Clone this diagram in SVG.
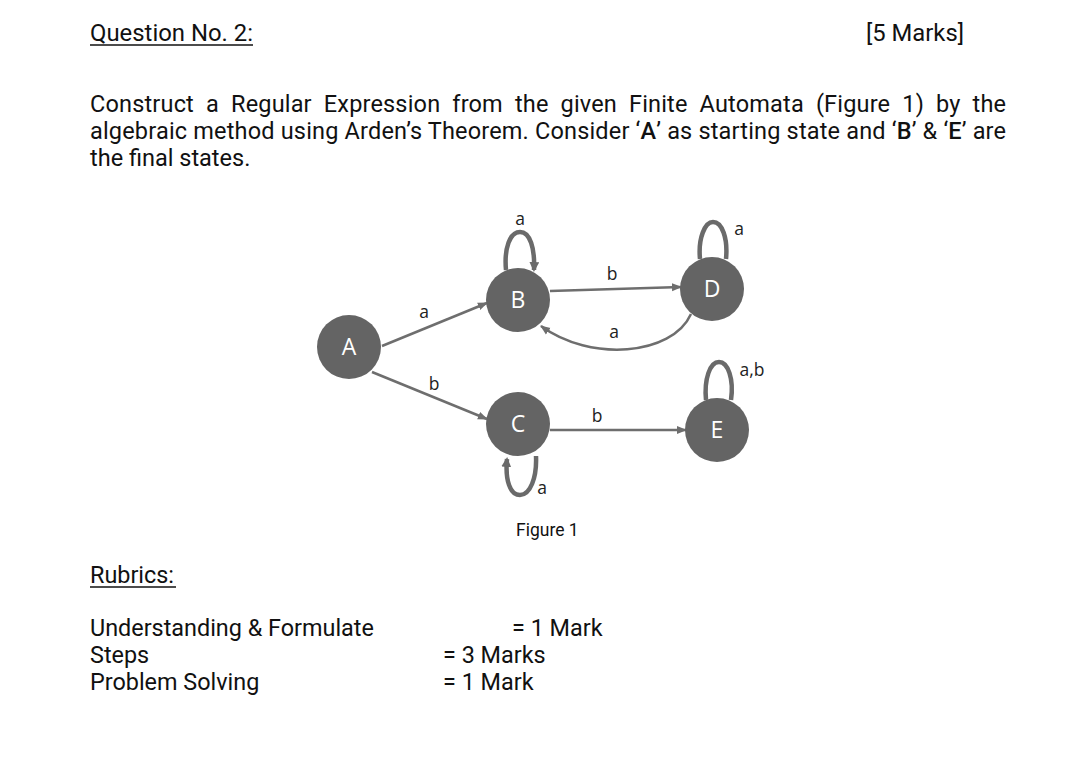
<svg xmlns="http://www.w3.org/2000/svg" width="1080" height="769" viewBox="0 0 1080 769">
<defs>
<style>
.hd{font-family:Roboto,"Liberation Sans",sans-serif;font-size:23.5px;fill:#111}
.rb{font-family:Roboto,"Liberation Sans",sans-serif;font-size:23.4px;fill:#111}
.cap{font-family:Roboto,"Liberation Sans",sans-serif;font-size:17.5px;fill:#111}
.b{font-weight:500}
.node{fill:#646464}
.nl{font-family:"Open Sans","DejaVu Sans",sans-serif;font-size:23px;fill:#fff;text-anchor:middle}
.el{font-family:"Open Sans","DejaVu Sans",sans-serif;font-size:17.5px;fill:#222;text-anchor:middle}
.edge{fill:none;stroke:#6e6e6e;stroke-width:2.5}
.loop{fill:none;stroke:#6a6a6a;stroke-width:4.5}
</style>
<marker id="arr" viewBox="0 0 10 10" refX="9" refY="5" markerWidth="4" markerHeight="4" orient="auto" markerUnits="strokeWidth">
<path d="M0,1 L10,5 L0,9 z" fill="#6e6e6e"/>
</marker>
<marker id="arrL" viewBox="0 0 10 10" refX="8" refY="5" markerWidth="2.2" markerHeight="2.2" orient="auto" markerUnits="strokeWidth">
<path d="M0,0 L10,5 L0,10 z" fill="#6a6a6a"/>
</marker>
</defs>
<rect width="1080" height="769" fill="#fff"/>

<g id="header">
<text class="hd" x="90" y="41" textLength="163" lengthAdjust="spacingAndGlyphs">Question No. 2:</text>
<line x1="90" y1="45" x2="253" y2="45" stroke="#111" stroke-width="1.5"/>
<text class="hd" x="866" y="41" textLength="98" lengthAdjust="spacingAndGlyphs">[5 Marks]</text>
</g>

<g id="question">
<text class="hd" x="90" y="112" word-spacing="6" textLength="916" lengthAdjust="spacing">Construct a Regular Expression from the given Finite Automata (Figure 1) by the</text>
<text class="hd" x="90" y="139" textLength="916" lengthAdjust="spacing">algebraic method using Arden’s Theorem. Consider ‘<tspan class="b">A</tspan>’ as starting state and ‘<tspan class="b">B</tspan>’ &amp; ‘<tspan class="b">E</tspan>’ are</text>
<text class="hd" x="90" y="166">the final states.</text>
</g>

<g id="connectors">
<line class="edge" x1="382" y1="346" x2="487" y2="303" marker-end="url(#arr)"/>
<line class="edge" x1="372" y1="372" x2="487" y2="419" marker-end="url(#arr)"/>
<line class="edge" x1="550" y1="291" x2="681" y2="287" marker-end="url(#arr)"/>
<path class="edge" d="M691,314 C672,356 590,362 541,326" marker-end="url(#arr)"/>
<line class="edge" x1="550" y1="430" x2="686" y2="430" marker-end="url(#arr)"/>
<path class="loop" d="M506,270 C504,248 510,232 520,232 C530,232 535,248 534,270" marker-end="url(#arrL)"/>
<path class="loop" d="M700,259 C698,238 705,222 713,222 C722,222 728,238 726,259"/>
<path class="loop" d="M706,400 C704,379 710,362 719,362 C728,362 734,379 731,400"/>
<path class="loop" d="M536,456 C537,478 530,495 520,495 C510,495 505,480 507,459" marker-end="url(#arrL)"/>
<text class="el" x="520" y="225">a</text>
<text class="el" x="424" y="318">a</text>
<text class="el" x="434" y="390">b</text>
<text class="el" x="612" y="280">b</text>
<text class="el" x="614" y="338">a</text>
<text class="el" x="597" y="422">b</text>
<text class="el" x="739" y="235">a</text>
<text class="el" x="752" y="376">a,b</text>
<text class="el" x="542" y="494">a</text>
</g>

<g id="node-A"><circle class="node" cx="349" cy="347" r="32"/><text class="nl" x="349" y="355">A</text></g>
<g id="node-B"><circle class="node" cx="518" cy="300" r="32"/><text class="nl" x="518" y="308">B</text></g>
<g id="node-C"><circle class="node" cx="518" cy="424" r="32"/><text class="nl" x="518" y="432">C</text></g>
<g id="node-D"><circle class="node" cx="712" cy="289" r="32"/><text class="nl" x="712" y="297">D</text></g>
<g id="node-E"><circle class="node" cx="717" cy="430" r="32"/><text class="nl" x="717" y="438">E</text></g>

<g id="caption">
<text class="cap" x="516" y="536">Figure 1</text>
</g>

<g id="rubrics">
<text class="rb" x="90" y="583">Rubrics:</text>
<line x1="90" y1="587" x2="176" y2="587" stroke="#111" stroke-width="1.5"/>
<text class="rb" x="90" y="636">Understanding &amp; Formulate</text>
<text class="rb" x="512" y="636">= 1 Mark</text>
<text class="rb" x="90" y="663">Steps</text>
<text class="rb" x="443" y="663">= 3 Marks</text>
<text class="rb" x="90" y="690">Problem Solving</text>
<text class="rb" x="443" y="690">= 1 Mark</text>
</g>
</svg>
